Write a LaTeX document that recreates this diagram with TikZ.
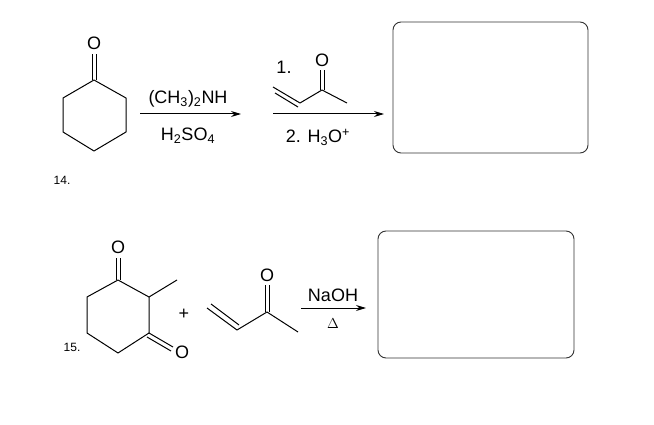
\documentclass[tikz,border=0pt]{standalone}
\usepackage{fontspec}
\setmainfont{Liberation Sans}
\usetikzlibrary{arrows.meta}
\newcommand{\sbs}[1]{\textsubscript{#1}}
\newcommand{\sps}[1]{\textsuperscript{#1}}
\begin{document}
\begin{tikzpicture}[x=1pt,y=-1pt,
  bond/.style={line width=1pt,line join=round},
  lbl/.style={font=\fontsize{18}{20}\selectfont,inner sep=0pt},
  small/.style={font=\fontsize{12}{14}\selectfont,inner sep=0pt},
  rxn/.style={line width=1pt,-{Stealth[length=10pt,width=6pt]}},
  answer/.style={draw=black!80,line width=0.9pt,rounded corners=8pt}]
\useasboundingbox (0,0) rectangle (654,425);
% --- reaction 14 ---
\draw[bond] (94,80)--(126,98)--(126,132)--(94,151)--(63,132)--(63,98)--cycle;
\node[lbl] (o1) at (94,43) {O};
\draw[bond] (92,80)--(92,54) (96,80)--(96,54);
\node[lbl] (r1a) at (188,99) {(CH\sbs{3})\sbs{2}NH};
\node[lbl] (r1b) at (188,136) {H\sbs{2}SO\sbs{4}};
\coordinate (a1s) at (140,114); \coordinate (a1e) at (241,114);
\draw[rxn] (a1s)--(a1e);
\node[lbl] (one) at (284,67) {1.};
\draw[bond] (300,103)--(322,90)--(347,103);
\draw[bond] (273,87)--(300,103) (275,93)--(298,107);
\node[lbl] (o2) at (322,60) {O};
\draw[bond] (320,90)--(320,70) (324,90)--(324,70);
\node[lbl] (r2) at (318,137) {2. H\sbs{3}O\sps{+}};
\coordinate (a2s) at (273,114); \coordinate (a2e) at (384,114);
\draw[rxn] (a2s)--(a2e);
\draw[answer] (393,22) rectangle (588,153);
\node[small] (n14) at (62,180) {14.};
% --- reaction 15 ---
\draw[bond] (118,280)--(149,297)--(149,333)--(118,353)--(87,333)--(87,297)--cycle;
\node[lbl] (o3) at (118,247) {O};
\draw[bond] (116,280)--(116,258) (120,280)--(120,258);
\draw[bond] (149,297)--(177,280);
\node[lbl] (o4) at (182,352) {O};
\draw[bond] (149,333)--(173,347) (147,337)--(171,351);
\node[lbl] (plus) at (184,314) {+};
\draw[bond] (207,308)--(237,330) (211,304)--(239,325);
\draw[bond] (237,330)--(267,312)--(298,332);
\node[lbl] (o5) at (267,275) {O};
\draw[bond] (265,312)--(265,285) (269,312)--(269,285);
\node[lbl] (r3) at (333,295) {NaOH};
\node[lbl,font=\fontsize{14}{16}\selectfont] (r4) at (333,324) {$\Delta$};
\coordinate (a3s) at (301,308); \coordinate (a3e) at (366,308);
\draw[rxn] (a3s)--(a3e);
\draw[answer] (378,231) rectangle (574,358);
\node[small] (n15) at (72,347) {15.};
\end{tikzpicture}
\end{document}
